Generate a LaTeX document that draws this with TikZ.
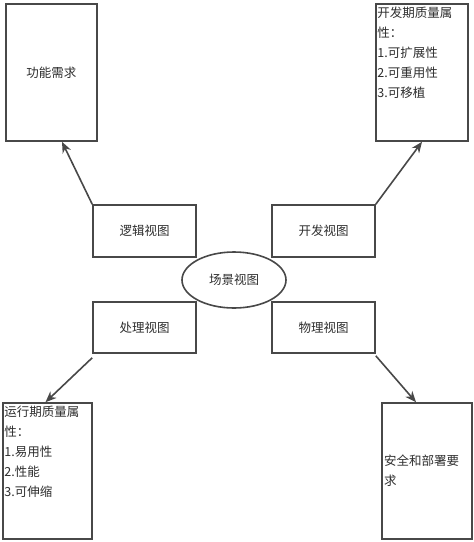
\documentclass[tikz,border=0pt]{standalone}
\usepackage{fontspec}
\setmainfont{Noto Sans CJK SC}
\usetikzlibrary{arrows.meta,shapes.geometric}
\definecolor{edgegray}{HTML}{484848}
\definecolor{textgray}{HTML}{2E2E2E}
\begin{document}
\begin{tikzpicture}[x=1pt,y=-1pt,
		box/.style={draw=edgegray,line width=1.6pt,fill=white,text=textgray,inner sep=2pt,font=\fontsize{12.5}{20}\selectfont},
		txt/.style={anchor=north west,inner xsep=2pt,inner ysep=3.5pt,align=left,text=textgray,font=\fontsize{12.5}{20}\selectfont},
		arr/.style={draw=edgegray,line width=1.6pt,-{Stealth[length=11pt,width=9pt]}}]
				\useasboundingbox (0,0) rectangle (474,542);
				\node[box,minimum width=91,minimum height=137] (func) at (51.5,72.5) {功能需求};
				\node[box,minimum width=92,minimum height=137] (devq) at (422,72.5) {};
				\node[txt] (devqtext) at (devq.north west) {开发期质量属\\性：\\1.可扩展性\\2.可重用性\\3.可移植};
				\node[box,minimum width=103,minimum height=52] (logic) at (144.5,231) {逻辑视图};
				\node[box,minimum width=103,minimum height=52] (dev) at (323.5,231) {开发视图};
				\node[box,minimum width=103,minimum height=51] (proc) at (144.5,327.5) {处理视图};
				\node[box,minimum width=103,minimum height=51] (phys) at (323.5,327.5) {物理视图};
				\node[box,ellipse,minimum width=104,minimum height=56] (scene) at (234,280) {场景视图};
				\node[box,minimum width=89,minimum height=136] (runq) at (47.5,471) {};
				\node[txt] (runqtext) at (runq.north west) {运行期质量属\\性：\\1.易用性\\2.性能\\3.可伸缩};
				\node[box,minimum width=90,minimum height=136,text width=86,align=left] (safe) at (427,471) {安全和部署要\\求};
				\draw[arr] (logic.north west) -- ([xshift=10.5pt]func.south);
				\draw[arr] (dev.north east) -- (devq.south);
				\draw[arr] ([yshift=-4pt]proc.south west) -- ([xshift=-2pt]runq.north);
				\draw[arr] ([yshift=-2pt]phys.south east) -- ([xshift=-11pt]safe.north);
			\end{tikzpicture}
\end{document}
